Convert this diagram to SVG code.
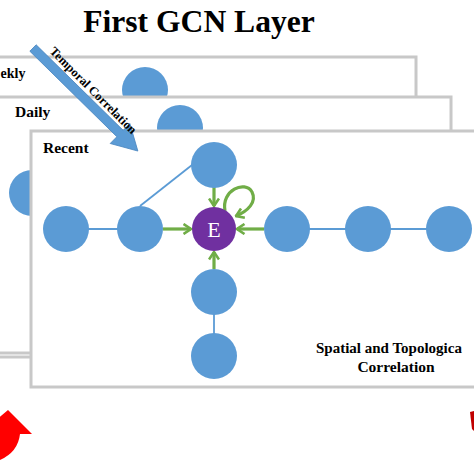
<svg xmlns="http://www.w3.org/2000/svg" width="474" height="474" viewBox="0 0 474 474">
<defs>
<style>
.panel{fill:#ffffff;stroke:#c8c8c8;stroke-width:3}
.node{fill:#5b9bd5}
.edge{stroke:#5b9bd5;stroke-width:1.8;fill:none}
.garrow{stroke:#70ad47;stroke-width:3.2;fill:none;marker-end:url(#chev)}
.lbl{font-family:"Liberation Serif","Times New Roman",serif;font-weight:bold;fill:#000}
</style>
<marker id="chev" viewBox="0 0 10 12" refX="8.5" refY="6" markerWidth="10" markerHeight="12" markerUnits="userSpaceOnUse" orient="auto">
<path d="M1,1 L8.5,6 L1,11" fill="none" stroke="#70ad47" stroke-width="2.6"/>
</marker>
</defs>
<rect width="474" height="474" fill="#ffffff"/>
<text class="lbl" x="199" y="32" font-size="31.6" text-anchor="middle">First GCN Layer</text>

<g id="weekly">
<rect class="panel" x="-60" y="57" width="476" height="300"/>
<text class="lbl" x="0.5" y="78" font-size="14">ekly</text>
<line class="edge" x1="145" y1="90" x2="115" y2="120"/>
<circle class="node" cx="145" cy="90" r="23"/>
</g>

<g id="daily">
<rect class="panel" x="-30" y="97" width="481" height="256"/>
<text class="lbl" x="15" y="117" font-size="15.5">Daily</text>
<line class="edge" x1="180" y1="128" x2="150" y2="160"/>
<circle class="node" cx="180" cy="128" r="23"/>
<circle class="node" cx="32" cy="193" r="23"/>
</g>

<g id="recent">
<rect class="panel" x="31" y="131" width="480" height="256"/>
<text class="lbl" x="43" y="153" font-size="15.5">Recent</text>
</g>

<g id="connectors">
<line class="edge" x1="66" y1="229" x2="140" y2="229"/>
<line class="edge" x1="140" y1="206" x2="192" y2="165"/>
<line class="edge" x1="287" y1="229" x2="449" y2="229"/>
<line class="edge" x1="214" y1="292" x2="214" y2="356"/>
<line class="garrow" x1="163" y1="229" x2="191" y2="229"/>
<line class="garrow" x1="214" y1="187" x2="214" y2="206"/>
<line class="garrow" x1="214" y1="269" x2="214" y2="252"/>
<line class="garrow" x1="264" y1="229" x2="237" y2="229"/>
<path class="garrow" d="M225,211 C221,190 245,180 252,192 C257,202 248,211 236,216"/>
</g>

<g id="n1"><circle class="node" cx="66" cy="229" r="23"/></g>
<g id="n2"><circle class="node" cx="140" cy="229" r="23"/></g>
<g id="n3"><circle class="node" cx="214" cy="165" r="23"/></g>
<g id="n4"><circle class="node" cx="287" cy="229" r="23"/></g>
<g id="n5"><circle class="node" cx="368" cy="229" r="23"/></g>
<g id="n6"><circle class="node" cx="449" cy="229" r="23"/></g>
<g id="n7"><circle class="node" cx="214" cy="292" r="23"/></g>
<g id="n8"><circle class="node" cx="214" cy="356" r="23"/></g>
<g id="E">
<circle cx="214" cy="229" r="22" fill="#7030a0"/>
<text x="214" y="237" font-family="Liberation Serif,serif" font-size="22" fill="#ffffff" text-anchor="middle">E</text>
</g>

<g id="spatial-label">
<text class="lbl" x="316" y="353" font-size="15">Spatial and Topologica</text>
<text class="lbl" x="396" y="372" font-size="15.5" text-anchor="middle">Correlation</text>
</g>

<g id="temporal-arrow">
<g transform="translate(33,48) rotate(44.5)">
<polygon points="0,-4.5 122,-4.5 122,-14 147,0 122,14 122,4.5 0,4.5" fill="#5b9bd5" stroke="#4a86c0" stroke-width="0.8"/>
</g>
<text class="lbl" font-size="12.5" transform="translate(49,52) rotate(45)">Temporal Correlation</text>
</g>

<g id="red-arrows">
<path d="M-20,434 L8,410 L32,434 L20,434 Q18,452 0,460 L-10,460 Z" fill="#ff0000"/>
<polygon points="470,412 474,411 474,431 472,429" fill="#c00000"/>
</g>
</svg>
